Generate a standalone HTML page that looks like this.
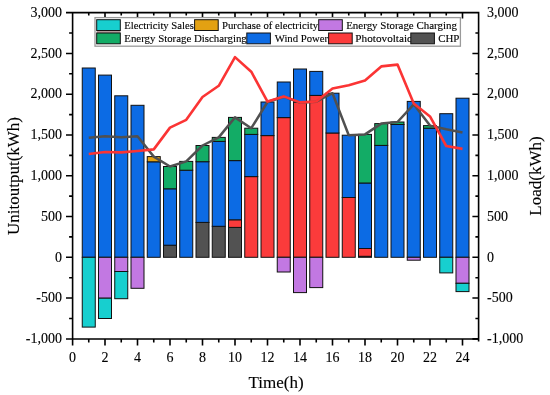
<!DOCTYPE html><html><head><meta charset="utf-8"><style>html,body{margin:0;padding:0;background:#fff;}svg{display:block;}text{font-family:"Liberation Serif","Times New Roman",serif;fill:#000;stroke:#000;stroke-width:0.12px;}</style></head><body>
<svg width="550" height="395" viewBox="0 0 550 395">
<rect width="550" height="395" fill="#fff"/>
<g stroke="#111" stroke-width="1">
<rect x="82.25" y="68.00" width="13.00" height="189.30" fill="#0c6be4"/>
<rect x="82.25" y="257.30" width="13.00" height="69.80" fill="#17cfcf"/>
<rect x="98.50" y="75.10" width="13.00" height="182.20" fill="#0c6be4"/>
<rect x="98.50" y="257.30" width="13.00" height="40.90" fill="#c278e2"/>
<rect x="98.50" y="298.20" width="13.00" height="20.30" fill="#17cfcf"/>
<rect x="114.75" y="95.80" width="13.00" height="161.50" fill="#0c6be4"/>
<rect x="114.75" y="257.30" width="13.00" height="14.20" fill="#c278e2"/>
<rect x="114.75" y="271.50" width="13.00" height="27.20" fill="#17cfcf"/>
<rect x="131.00" y="105.30" width="13.00" height="152.00" fill="#0c6be4"/>
<rect x="131.00" y="257.30" width="13.00" height="31.00" fill="#c278e2"/>
<rect x="147.25" y="161.80" width="13.00" height="95.50" fill="#0c6be4"/>
<rect x="147.25" y="156.60" width="13.00" height="5.20" fill="#e3a112"/>
<rect x="163.50" y="245.20" width="13.00" height="12.10" fill="#525252"/>
<rect x="163.50" y="188.80" width="13.00" height="56.40" fill="#0c6be4"/>
<rect x="163.50" y="166.50" width="13.00" height="22.30" fill="#13ac66"/>
<rect x="179.75" y="170.20" width="13.00" height="87.10" fill="#0c6be4"/>
<rect x="179.75" y="161.40" width="13.00" height="8.80" fill="#13ac66"/>
<rect x="196.00" y="222.40" width="13.00" height="34.90" fill="#525252"/>
<rect x="196.00" y="161.70" width="13.00" height="60.70" fill="#0c6be4"/>
<rect x="196.00" y="145.50" width="13.00" height="16.20" fill="#13ac66"/>
<rect x="212.25" y="226.30" width="13.00" height="31.00" fill="#525252"/>
<rect x="212.25" y="141.40" width="13.00" height="84.90" fill="#0c6be4"/>
<rect x="212.25" y="137.40" width="13.00" height="4.00" fill="#13ac66"/>
<rect x="228.50" y="227.40" width="13.00" height="29.90" fill="#525252"/>
<rect x="228.50" y="219.80" width="13.00" height="7.60" fill="#fb3b3b"/>
<rect x="228.50" y="160.60" width="13.00" height="59.20" fill="#0c6be4"/>
<rect x="228.50" y="117.40" width="13.00" height="43.20" fill="#13ac66"/>
<rect x="244.75" y="176.60" width="13.00" height="80.70" fill="#fb3b3b"/>
<rect x="244.75" y="134.40" width="13.00" height="42.20" fill="#0c6be4"/>
<rect x="244.75" y="128.20" width="13.00" height="6.20" fill="#13ac66"/>
<rect x="261.00" y="135.60" width="13.00" height="121.70" fill="#fb3b3b"/>
<rect x="261.00" y="102.00" width="13.00" height="33.60" fill="#0c6be4"/>
<rect x="277.25" y="117.60" width="13.00" height="139.70" fill="#fb3b3b"/>
<rect x="277.25" y="82.00" width="13.00" height="35.60" fill="#0c6be4"/>
<rect x="277.25" y="257.30" width="13.00" height="14.70" fill="#c278e2"/>
<rect x="293.50" y="102.00" width="13.00" height="155.30" fill="#fb3b3b"/>
<rect x="293.50" y="69.00" width="13.00" height="33.00" fill="#0c6be4"/>
<rect x="293.50" y="257.30" width="13.00" height="35.30" fill="#c278e2"/>
<rect x="309.75" y="95.40" width="13.00" height="161.90" fill="#fb3b3b"/>
<rect x="309.75" y="71.40" width="13.00" height="24.00" fill="#0c6be4"/>
<rect x="309.75" y="257.30" width="13.00" height="30.30" fill="#c278e2"/>
<rect x="326.00" y="133.00" width="13.00" height="124.30" fill="#fb3b3b"/>
<rect x="326.00" y="93.20" width="13.00" height="39.80" fill="#0c6be4"/>
<rect x="342.25" y="197.50" width="13.00" height="59.80" fill="#fb3b3b"/>
<rect x="342.25" y="135.20" width="13.00" height="62.30" fill="#0c6be4"/>
<rect x="358.50" y="256.30" width="13.00" height="1.00" fill="#525252"/>
<rect x="358.50" y="248.50" width="13.00" height="7.80" fill="#fb3b3b"/>
<rect x="358.50" y="183.00" width="13.00" height="65.50" fill="#0c6be4"/>
<rect x="358.50" y="134.40" width="13.00" height="48.60" fill="#13ac66"/>
<rect x="374.75" y="145.40" width="13.00" height="111.90" fill="#0c6be4"/>
<rect x="374.75" y="123.60" width="13.00" height="21.80" fill="#13ac66"/>
<rect x="391.00" y="124.50" width="13.00" height="132.80" fill="#0c6be4"/>
<rect x="391.00" y="122.00" width="13.00" height="2.50" fill="#13ac66"/>
<rect x="407.25" y="101.40" width="13.00" height="155.90" fill="#0c6be4"/>
<rect x="407.25" y="257.30" width="13.00" height="2.90" fill="#c278e2"/>
<rect x="423.50" y="128.20" width="13.00" height="129.10" fill="#0c6be4"/>
<rect x="423.50" y="125.60" width="13.00" height="2.60" fill="#13ac66"/>
<rect x="439.75" y="113.70" width="13.00" height="143.60" fill="#0c6be4"/>
<rect x="439.75" y="257.30" width="13.00" height="15.60" fill="#17cfcf"/>
<rect x="456.00" y="98.20" width="13.00" height="159.10" fill="#0c6be4"/>
<rect x="456.00" y="257.30" width="13.00" height="26.00" fill="#c278e2"/>
<rect x="456.00" y="283.30" width="13.00" height="8.30" fill="#17cfcf"/>
</g>
<polyline points="88.75,137.80 105.00,136.30 121.25,137.20 137.50,136.30 153.75,156.60 170.00,166.50 186.25,161.40 202.50,145.50 218.75,137.40 235.00,117.40 251.25,128.20 267.50,102.00 283.75,96.70 300.00,102.60 316.25,101.70 332.50,93.20 348.75,135.20 365.00,134.40 381.25,123.60 397.50,122.00 413.75,104.30 430.00,125.60 446.25,129.30 462.50,132.50" fill="none" stroke="#505050" stroke-width="2.5" stroke-linejoin="round"/>
<polyline points="88.75,154.00 105.00,152.00 121.25,152.40 137.50,151.00 153.75,149.40 170.00,127.60 186.25,119.80 202.50,97.00 218.75,85.80 235.00,57.10 251.25,71.70 267.50,101.60 283.75,96.40 300.00,102.40 316.25,101.50 332.50,88.60 348.75,85.20 365.00,80.60 381.25,66.40 397.50,64.60 413.75,103.50 430.00,116.40 446.25,146.00 462.50,148.90" fill="none" stroke="#fb3434" stroke-width="2.6" stroke-linejoin="round"/>
<g stroke="#000" stroke-width="1.6" fill="none">
<path d="M72.6,11.799999999999999V345.5M66.0,12.6H479.40000000000003M66.0,339.0H479.40000000000003M478.6,11.799999999999999V341.5"/>
<path d="M88.75,339.0v3.5M88.75,12.6v3M105.00,339.0v6.5M105.00,12.6v6M121.25,339.0v3.5M121.25,12.6v3M137.50,339.0v6.5M137.50,12.6v6M153.75,339.0v3.5M153.75,12.6v3M170.00,339.0v6.5M170.00,12.6v6M186.25,339.0v3.5M186.25,12.6v3M202.50,339.0v6.5M202.50,12.6v6M218.75,339.0v3.5M218.75,12.6v3M235.00,339.0v6.5M235.00,12.6v6M251.25,339.0v3.5M251.25,12.6v3M267.50,339.0v6.5M267.50,12.6v6M283.75,339.0v3.5M283.75,12.6v3M300.00,339.0v6.5M300.00,12.6v6M316.25,339.0v3.5M316.25,12.6v3M332.50,339.0v6.5M332.50,12.6v6M348.75,339.0v3.5M348.75,12.6v3M365.00,339.0v6.5M365.00,12.6v6M381.25,339.0v3.5M381.25,12.6v3M397.50,339.0v6.5M397.50,12.6v6M413.75,339.0v3.5M413.75,12.6v3M430.00,339.0v6.5M430.00,12.6v6M446.25,339.0v3.5M446.25,12.6v3M462.50,339.0v6.5M462.50,12.6v6M478.6,338.85h-6.2M72.6,318.46h-3.5M478.6,318.46h-3.2M72.6,298.07h-6.6M478.6,298.07h-6.2M72.6,277.69h-3.5M478.6,277.69h-3.2M72.6,257.30h-6.6M478.6,257.30h-6.2M72.6,236.91h-3.5M478.6,236.91h-3.2M72.6,216.53h-6.6M478.6,216.53h-6.2M72.6,196.14h-3.5M478.6,196.14h-3.2M72.6,175.75h-6.6M478.6,175.75h-6.2M72.6,155.36h-3.5M478.6,155.36h-3.2M72.6,134.98h-6.6M478.6,134.98h-6.2M72.6,114.59h-3.5M478.6,114.59h-3.2M72.6,94.20h-6.6M478.6,94.20h-6.2M72.6,73.81h-3.5M478.6,73.81h-3.2M72.6,53.43h-6.6M478.6,53.43h-6.2M72.6,33.04h-3.5M478.6,33.04h-3.2"/>
</g>
<g font-size="14">
<text x="62" y="343.05" text-anchor="end">-1,000</text>
<text x="487" y="343.05">-1,000</text>
<text x="62" y="302.27" text-anchor="end">-500</text>
<text x="487" y="302.27">-500</text>
<text x="62" y="261.50" text-anchor="end">0</text>
<text x="487" y="261.50">0</text>
<text x="62" y="220.72" text-anchor="end">500</text>
<text x="487" y="220.72">500</text>
<text x="62" y="179.95" text-anchor="end">1,000</text>
<text x="487" y="179.95">1,000</text>
<text x="62" y="139.18" text-anchor="end">1,500</text>
<text x="487" y="139.18">1,500</text>
<text x="62" y="98.40" text-anchor="end">2,000</text>
<text x="487" y="98.40">2,000</text>
<text x="62" y="57.63" text-anchor="end">2,500</text>
<text x="487" y="57.63">2,500</text>
<text x="62" y="16.85" text-anchor="end">3,000</text>
<text x="487" y="16.85">3,000</text>
<text x="72.50" y="361.5" text-anchor="middle">0</text>
<text x="105.00" y="361.5" text-anchor="middle">2</text>
<text x="137.50" y="361.5" text-anchor="middle">4</text>
<text x="170.00" y="361.5" text-anchor="middle">6</text>
<text x="202.50" y="361.5" text-anchor="middle">8</text>
<text x="235.00" y="361.5" text-anchor="middle">10</text>
<text x="267.50" y="361.5" text-anchor="middle">12</text>
<text x="300.00" y="361.5" text-anchor="middle">14</text>
<text x="332.50" y="361.5" text-anchor="middle">16</text>
<text x="365.00" y="361.5" text-anchor="middle">18</text>
<text x="397.50" y="361.5" text-anchor="middle">20</text>
<text x="430.00" y="361.5" text-anchor="middle">22</text>
<text x="462.50" y="361.5" text-anchor="middle">24</text>
</g>
<text x="276" y="387.8" font-size="17" text-anchor="middle">Time(h)</text>
<text transform="translate(19,176) rotate(-90)" font-size="17" text-anchor="middle">Unitoutput(kWh)</text>
<text transform="translate(541.3,176) rotate(-90)" font-size="17" text-anchor="middle">Load(kWh)</text>
<rect x="95" y="17.6" width="365.4" height="28.6" fill="#fff" stroke="#9a9a9a" stroke-width="1.3"/>
<rect x="96.7" y="30.5" width="23.6" height="2.7" fill="#b49c9c"/>
<text x="124.30" y="28.80" font-size="10.8" textLength="69.60" lengthAdjust="spacingAndGlyphs">Electricity Sales</text>
<text x="222.00" y="28.80" font-size="10.8" textLength="96.00" lengthAdjust="spacingAndGlyphs">Purchase of electricity</text>
<text x="346.20" y="28.80" font-size="10.8" textLength="110.80" lengthAdjust="spacingAndGlyphs">Energy Storage Charging</text>
<text x="124.30" y="42.10" font-size="10.8" textLength="122.50" lengthAdjust="spacingAndGlyphs">Energy Storage Discharging</text>
<text x="274.70" y="42.10" font-size="10.8" textLength="53.50" lengthAdjust="spacingAndGlyphs">Wind Power</text>
<text x="355.30" y="42.10" font-size="10.8" textLength="56.80" lengthAdjust="spacingAndGlyphs">Photovoltaic</text>
<text x="438.20" y="42.10" font-size="10.8" textLength="21.20" lengthAdjust="spacingAndGlyphs">CHP</text>
<rect x="96.7" y="19.7" width="23.6" height="10.8" fill="#17cfcf" stroke="#111" stroke-width="1"/>
<rect x="194.6" y="19.7" width="23.6" height="10.8" fill="#e3a112" stroke="#111" stroke-width="1"/>
<rect x="318.7" y="19.7" width="23.6" height="10.8" fill="#c278e2" stroke="#111" stroke-width="1"/>
<rect x="96.7" y="33.0" width="23.6" height="10.8" fill="#13ac66" stroke="#111" stroke-width="1"/>
<rect x="246.8" y="33.0" width="23.6" height="10.8" fill="#0c6be4" stroke="#111" stroke-width="1"/>
<rect x="328.6" y="33.0" width="23.6" height="10.8" fill="#fb3b3b" stroke="#111" stroke-width="1"/>
<rect x="410.8" y="33.0" width="23.6" height="10.8" fill="#525252" stroke="#111" stroke-width="1"/>
</svg></body></html>
